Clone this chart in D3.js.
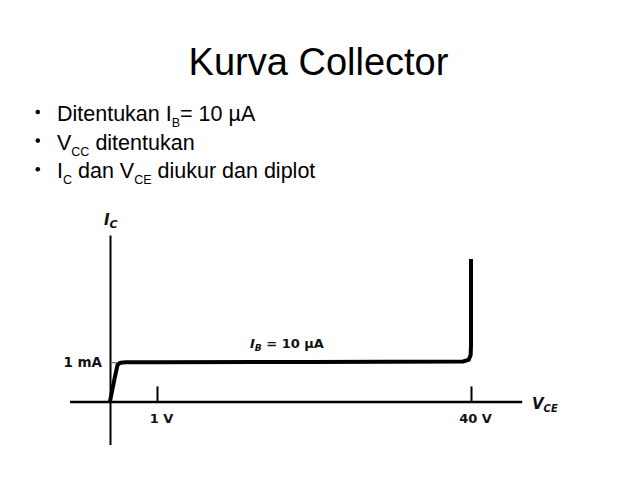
<!DOCTYPE html>
<html>
<head>
<meta charset="utf-8">
<script src="https://cdn.jsdelivr.net/npm/d3@7"></script>
<style>
  body { margin: 0; background: #fff; }
  svg { display: block; }
</style>
</head>
<body>
<div id="slide"></div>
<script>
// curve values (V_CE in volts, I_C in mA)
const vceValues = [0, 0.1, 0.16, 0.22, 0.34, 1, 20, 39, 39.7, 39.95, 40, 40];
const icValues = [0, 0.6, 0.93, 0.99, 1.0, 1.0, 1.01, 1.02, 1.06, 1.18, 1.4, 3.64];

// tick values and labels
const xTickValues = [1, 40];
const xTickLabels = ["1 V", "40 V"];
const yTickValues = [1];
const yTickLabels = ["1 mA"];

// slide texts, each line split into [text, isSubscript]
const titleText = "Kurva Collector";
const bulletLines = [
  [["Ditentukan I", false], ["B", true], ["= 10 µA", false]],
  [["V", false], ["CC", true], [" ditentukan", false]],
  [["I", false], ["C", true], [" dan V", false], ["CE", true], [" diukur dan diplot", false]],
];

function drawSlide(id) {
  const w = 638;
  const h = 478;

  const svg = d3
    .select(`#${id}`)
    .append("svg")
    .attr("width", w)
    .attr("height", h)
    .attr("viewBox", [0, 0, w, h]);

  svg.append("rect").attr("width", w).attr("height", h).attr("fill", "#fff");

  // title
  svg
    .append("text")
    .attr("x", 318.5)
    .attr("y", 75)
    .attr("text-anchor", "middle")
    .style("font-family", "'Liberation Sans', Arial, sans-serif")
    .style("font-size", "38px")
    .attr("fill", "#000")
    .text(titleText);

  // bullet list
  const bullets = svg
    .append("g")
    .style("font-family", "'Liberation Sans', Arial, sans-serif")
    .attr("fill", "#000");

  bulletLines.forEach((parts, i) => {
    const y = 121 + i * 28.6;
    bullets
      .append("circle")
      .attr("cx", 37.8)
      .attr("cy", y - 9)
      .attr("r", 2.3);
    const t = bullets
      .append("text")
      .attr("x", 57)
      .attr("y", y)
      .style("font-size", "21.5px");
    let shifted = false;
    parts.forEach(([str, sub]) => {
      const span = t.append("tspan").text(str);
      if (sub && !shifted) {
        span.attr("dy", 6).style("font-size", "12.5px");
        shifted = true;
      } else if (sub) {
        span.style("font-size", "12.5px");
      } else if (shifted) {
        span.attr("dy", -6);
        shifted = false;
      }
    });
  });

  // scales - the drawing is not to scale, 0..1 V is stretched
  const xScale = d3
    .scaleLinear()
    .domain([-0.86, 0, 1, 40, 46.3])
    .range([69.6, 110, 157, 471, 521.7]);

  const yScale = d3.scaleLinear().domain([-1.1, 4.25]).range([444.5, 235]);

  const figFont = "'DejaVu Sans', 'Liberation Sans', sans-serif";

  // x axis with upward ticks
  const xAxis = svg
    .append("g")
    .attr("transform", `translate(0,${yScale(0)})`)
    .call(
      d3
        .axisBottom(xScale)
        .tickValues(xTickValues)
        .tickFormat((d, i) => xTickLabels[i])
        .tickSize(-15)
        .tickSizeOuter(0)
        .tickPadding(12)
    );
  xAxis.select(".domain").attr("stroke", "#000").attr("stroke-width", 2.5);
  xAxis.selectAll(".tick line").attr("stroke", "#000").attr("stroke-width", 2);
  xAxis
    .selectAll(".tick text")
    .attr("dx", 4)
    .attr("fill", "#111")
    .style("font-family", figFont)
    .style("font-weight", "bold")
    .style("font-size", "13px");

  // y axis
  const yAxis = svg
    .append("g")
    .attr("transform", `translate(${xScale(0)},0)`)
    .call(
      d3
        .axisLeft(yScale)
        .tickValues(yTickValues)
        .tickFormat((d, i) => yTickLabels[i])
        .tickSize(-7)
        .tickSizeOuter(0)
        .tickPadding(8)
    );
  yAxis.select(".domain").attr("stroke", "#000").attr("stroke-width", 2);
  yAxis.selectAll(".tick line").attr("stroke", "#444").attr("stroke-width", 1);
  yAxis
    .selectAll(".tick text")
    .attr("fill", "#111")
    .style("font-family", figFont)
    .style("font-weight", "bold")
    .style("font-size", "13.5px");

  // collector curve
  const line = d3
    .line()
    .x((d) => xScale(d[0]))
    .y((d) => yScale(d[1]));

  svg
    .append("path")
    .datum(vceValues.map((v, i) => [v, icValues[i]]))
    .attr("d", line)
    .attr("fill", "none")
    .attr("stroke", "#000")
    .attr("stroke-width", 4)
    .attr("stroke-linejoin", "round");

  // axis names and curve label
  const labels = svg
    .append("g")
    .style("font-family", figFont)
    .style("font-weight", "bold")
    .attr("fill", "#111");

  const ic = labels.append("text").attr("x", 104).attr("y", 225).style("font-size", "15px");
  ic.append("tspan").style("font-style", "italic").text("I");
  ic.append("tspan").attr("dy", 3).style("font-style", "italic").style("font-size", "11px").text("C");

  const vce = labels.append("text").attr("x", 532).attr("y", 409).style("font-size", "15px");
  vce.append("tspan").style("font-style", "italic").text("V");
  vce.append("tspan").attr("dy", 3).style("font-style", "italic").style("font-size", "10px").text("CE");

  const ib = labels.append("text").attr("x", 250).attr("y", 347.5).style("font-size", "13px");
  ib.append("tspan").style("font-style", "italic").text("I");
  ib.append("tspan").attr("dy", 3).style("font-style", "italic").style("font-size", "9px").text("B");
  ib.append("tspan").attr("dy", -3).text(" = 10 µA");
}

document.addEventListener("DOMContentLoaded", function () {
  drawSlide("slide");
});
</script>
</body>
</html>
